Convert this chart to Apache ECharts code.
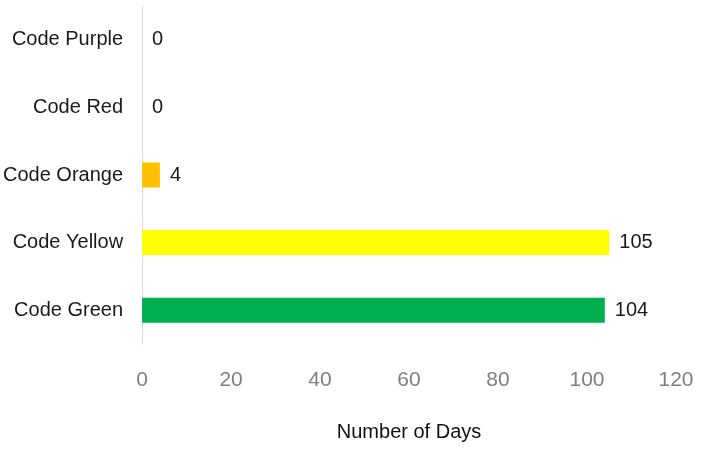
<!DOCTYPE html>
<html style="height: 100%">
<head>
    <meta charset="utf-8">
</head>
<body style="height: 100%; margin: 0; background: #fff">
<div id="container" style="width: 702px; height: 460px"></div>
<script type="text/javascript" src="https://cdn.jsdelivr.net/npm/echarts@6/dist/echarts.min.js"></script>
<script type="text/javascript">
    var categories = ['Code Green', 'Code Yellow', 'Code Orange', 'Code Red', 'Code Purple'];
    var days = [104, 105, 4, 0, 0];
    var barColors = ['#00B050', '#FFFF00', '#FFC000', '#7030A0', '#FF0000'];
    var xTicks = [0, 20, 40, 60, 80, 100, 120];

    var font = '"Liberation Sans", Arial, sans-serif';

    var dom = document.getElementById("container");
    var myChart = echarts.init(dom);

    var option = {
        animation: false,
        textStyle: {fontFamily: font},
        grid: {left: 142, right: 26, top: 6, bottom: 116},
        xAxis: {
            type: 'value',
            min: xTicks[0],
            max: xTicks[xTicks.length - 1],
            interval: 20,
            name: 'Number of Days',
            nameLocation: 'middle',
            nameGap: 78,
            nameTextStyle: {fontFamily: font, fontSize: 20, color: '#111'},
            axisLine: {show: false},
            axisTick: {show: false},
            splitLine: {show: false},
            axisLabel: {fontFamily: font, fontSize: 21, color: '#7f7f7f', margin: 26}
        },
        yAxis: {
            type: 'category',
            data: categories,
            axisLine: {show: true, lineStyle: {color: '#d9d9d9', width: 1}},
            axisTick: {show: false},
            axisLabel: {fontFamily: font, fontSize: 20, color: '#1a1a1a', margin: 19}
        },
        series: [{
            type: 'bar',
            barWidth: 25,
            data: days.map(function (v, i) {
                return {value: v, itemStyle: {color: barColors[i]}};
            }),
            label: {
                show: true,
                position: 'right',
                distance: 10,
                fontFamily: font,
                fontSize: 20,
                color: '#1a1a1a'
            }
        }]
    };

    myChart.setOption(option, true);
</script>
</body>
</html>
